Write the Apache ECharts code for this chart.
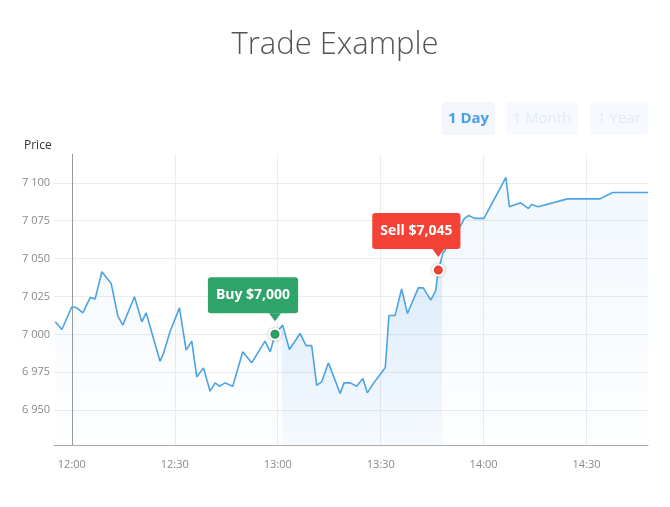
<!DOCTYPE html>
<html><head><meta charset="utf-8">
<script src="https://cdn.jsdelivr.net/npm/echarts@6/dist/echarts.min.js"></script>
<style>html,body{margin:0;padding:0;background:#fff}#c{width:670px;height:507px}</style>
</head><body><div id="c"></div>
<script>
// minutes after 12:00
var minutes = [-4.85,-2.9,0,1.46,3.2,5.34,6.8,8.74,11.46,13.4,14.85,18.25,20.4,21.65,25.7,26.7,28.6,31.36,33.3,34.95,36.4,38.35,40.3,41.75,43.0,44.66,46.9,49.8,52.4,56.3,57.8,59.2,61.45,63.4,66.5,68.25,69.9,71.36,72.8,74.76,78.2,79.3,81.1,83.0,84.8,86.1,87.85,91.35,92.4,94.2,96.1,97.8,100.97,102.4,104.6,106.0,106.8,108.1,112.1,114.4,115.7,117.3,120.1,126.5,127.5,130.8,133.0,134.0,135.9,144.4,153.9,157.6,167.9];
var prices = [7008.3,7003.2,7018.2,7017.5,7014.2,7024.3,7023.4,7041.3,7033.6,7012.2,7006.1,7024.8,7008.3,7014.2,6982.3,6987.4,7001.7,7017.5,6989.6,6995.5,6971.9,6977.9,6962.5,6968.0,6965.8,6968.0,6965.8,6988.5,6981.2,6995.5,6988.5,7000.1,7006.1,6990.0,7000.6,6992.6,6992.6,6966.4,6968.6,6981.2,6961.0,6968,6968,6965.8,6970.8,6961.4,6967.5,6978.1,7012.4,7012.4,7030.0,7013.8,7030.7,7030.7,7022.6,7028.7,7042.4,7053.4,7066.6,7076.5,7078.4,7076.5,7076.5,7103.5,7084.2,7086.8,7083.1,7085.7,7084.2,7089.4,7089.4,7093.6,7093.6];
var xTicks = [0,30,60,90,120,150];
var xTickLabels = ['12:00','12:30','13:00','13:30','14:00','14:30'];
var yTicks = [6950,6975,7000,7025,7050,7075,7100];
var trades = [
  {name:'Buy $7,000', minute:59.2, price:7000.1, color:'#2ea36a'},
  {name:'Sell $7,045', minute:106.8, price:7042.4, color:'#f44336'}
];
var buttons = ['1 Day','1 Month','1 Year'];

var data = minutes.map(function(m,i){return [m,prices[i]];});
var fmtY = function(v){var s=String(Math.round(v));return s.slice(0,s.length-3)+' '+s.slice(-3);};
var ch = echarts.init(document.getElementById('c'));
var markPts = [];
trades.forEach(function(t){
  markPts.push({coord:[t.minute,t.price],symbol:'triangle',symbolRotate:180,symbolSize:[12,8],symbolOffset:[0,-17],
    itemStyle:{color:t.color},
    label:{show:true,position:'top',distance:0,offset:[-22,0],formatter:t.name,backgroundColor:t.color,color:'#fff',fontWeight:'bold',
      fontSize:14,fontFamily:'Open Sans',padding:[11,8,11,8],borderRadius:3}});
  markPts.push({coord:[t.minute,t.price],symbol:'circle',symbolSize:11,itemStyle:{color:t.color,borderColor:'#fff',borderWidth:2,shadowBlur:3,shadowColor:'rgba(0,0,0,0.25)'},label:{show:false}});
});
var gridLines = yTicks.map(function(v){return {yAxis:v,lineStyle:{color:'#ececec',width:1,type:'solid'}};})
  .concat(xTicks.map(function(v,i){return {xAxis:v,lineStyle:{color:i===0?'#999':'#ececec',width:1,type:'solid'}};}));
var yMin=6927,yMax=7119,xMin=-5.2,xMax=167.9;
ch.setOption({
  animation:false,
  title:{text:'Trade Example',left:'center',top:25,textStyle:{fontFamily:'Open Sans',fontWeight:300,fontSize:31,color:'#555'}},
  grid:[{left:54,right:22,top:154,bottom:62},{left:283,width:158,top:154,bottom:62}],
  xAxis:[
    {type:'value',min:xMin,max:xMax,splitLine:{show:false},axisLine:{lineStyle:{color:'#aaa'}},
     axisTick:{show:false},
     axisLabel:{customValues:xTicks,color:'#888',fontSize:11,fontFamily:'Open Sans',margin:14,formatter:function(v){return xTickLabels[xTicks.indexOf(Math.round(v))]||'';}}},
    {type:'value',gridIndex:1,min:61.55,max:107.57,show:false}
  ],
  yAxis:[
    {type:'value',min:yMin,max:yMax,
     splitLine:{show:false},axisLine:{show:false},axisTick:{show:false},
     axisLabel:{customValues:yTicks,color:'#888',fontSize:11,fontFamily:'Open Sans',margin:4,formatter:fmtY}},
    {type:'value',gridIndex:1,min:yMin,max:yMax,show:false}
  ],
  series:[
    {type:'line',data:data,symbol:'none',z:3,lineStyle:{color:'#4ba3e3',width:1.6},
     areaStyle:{color:new echarts.graphic.LinearGradient(0,0,0,1,[{offset:0,color:'rgba(66,150,230,0.10)'},{offset:1,color:'rgba(66,150,230,0.01)'}])},
     markLine:{silent:true,symbol:'none',label:{show:false},data:gridLines,z:1},
     markPoint:{data:markPts,z:10}},
    {type:'line',xAxisIndex:1,yAxisIndex:1,data:data,symbol:'none',clip:true,z:2,lineStyle:{opacity:0},
     areaStyle:{color:new echarts.graphic.LinearGradient(0,0,0,1,[{offset:0,color:'rgba(66,150,230,0.28)'},{offset:1,color:'rgba(66,150,230,0.06)'}])}}
  ],
  graphic:[
    {type:'text',x:24,y:146,style:{text:'Price',fill:'#333',font:'12px "Open Sans"',align:'left',verticalAlign:'middle'}},
    {type:'rect',shape:{x:442,y:102,width:53,height:33,r:3},style:{fill:'#f3f7fc'}},
    {type:'text',x:468.5,y:118.5,style:{text:buttons[0],fill:'#4a9fe8',font:'bold 15px "Open Sans"',align:'center',verticalAlign:'middle'}},
    {type:'rect',shape:{x:506,y:102,width:72,height:33,r:3},style:{fill:'#f6f9fd'}},
    {type:'text',x:542,y:118.5,style:{text:buttons[1],fill:'#e2eaf3',font:'15px "Open Sans"',align:'center',verticalAlign:'middle'}},
    {type:'rect',shape:{x:590,y:102,width:58,height:33,r:3},style:{fill:'#f6f9fd'}},
    {type:'text',x:619,y:118.5,style:{text:buttons[2],fill:'#e2eaf3',font:'15px "Open Sans"',align:'center',verticalAlign:'middle'}}
  ]
});
</script></body></html>
